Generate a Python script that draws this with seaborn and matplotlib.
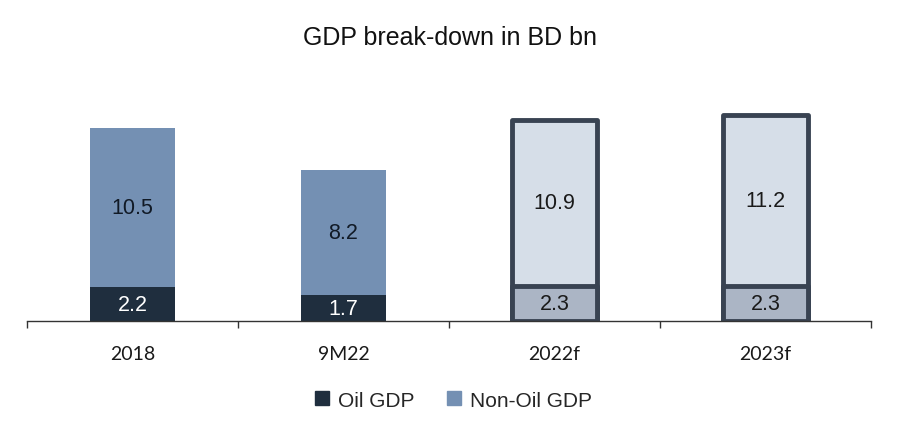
import matplotlib
matplotlib.use("Agg")
import matplotlib.pyplot as plt
from matplotlib.lines import Line2D
import numpy as np
import pandas as pd
import seaborn as sns

categories = ["2018", "9M22", "2022f", "2023f"]
oil_gdp = [2.2, 1.7, 2.3, 2.3]
non_oil_gdp = [10.5, 8.2, 10.9, 11.2]
forecast = [False, False, True, True]

sns.set_style("white")
plt.rcParams['font.family'] = ['Liberation Sans', 'DejaVu Sans']

df = pd.DataFrame({"cat": categories, "oil": oil_gdp, "non_oil": non_oil_gdp})
df["total"] = df["oil"] + df["non_oil"]

oil_col, non_oil_col = "#1f2e3e", "#7490b3"
oil_fc, non_oil_fc = "#abb5c5", "#d6dee8"
edge_col = "#394352"

fig = plt.figure(figsize=(9, 4.35), dpi=100)
ax = fig.add_axes([27 / 900, 0.2598, 844 / 900, 0.49])

tot_pal = {c: (non_oil_fc if f else non_oil_col) for c, f in zip(categories, forecast)}
oil_pal = {c: (oil_fc if f else oil_col) for c, f in zip(categories, forecast)}

# totals first, oil part drawn over the bottom
sns.barplot(data=df, x="cat", y="total", hue="cat", palette=tot_pal, legend=False,
            width=0.4, ax=ax, saturation=1)
n = len(categories)
sns.barplot(data=df, x="cat", y="oil", hue="cat", palette=oil_pal, legend=False,
            width=0.4, ax=ax, saturation=1)

for i, p in enumerate(ax.patches):
    if forecast[i % n]:
        p.set_edgecolor(edge_col)
        p.set_linewidth(3.5)
        p.set_joinstyle("round")
    else:
        p.set_linewidth(0)

for i in range(n):
    txt_oil = "white" if not forecast[i] else "#1a1a1a"
    ax.text(i, oil_gdp[i] / 2, f"{oil_gdp[i]:.1f}", ha="center", va="center",
            fontsize=15.5, color=txt_oil)
    ax.text(i, oil_gdp[i] + non_oil_gdp[i] / 2, f"{non_oil_gdp[i]:.1f}", ha="center",
            va="center", fontsize=15.5, color="#111a26" if not forecast[i] else "#1a1a1a")

ax.set_ylim(0, 14)
ax.set_xlim(-0.5, n - 0.5)
ax.set_xlabel("")
ax.set_ylabel("")
ax.set_yticks([])
for s in ["top", "right", "left"]:
    ax.spines[s].set_visible(False)
ax.spines["bottom"].set_color("#333333")
ax.spines["bottom"].set_linewidth(1)
ax.set_xticks(range(n))
ax.set_xticklabels(categories, fontsize=14, family=["Lato", "DejaVu Sans"], color="#1a1a1a")
ax.set_xticks(np.arange(-0.5, n, 1), minor=True)
ax.tick_params(axis="x", which="major", bottom=False, length=0, pad=17)
ax.tick_params(axis="x", which="minor", bottom=True, length=5, width=1, color="#333333",
               direction="out")

fig.text(0.5, 0.913, "GDP break-down in BD bn", ha="center", va="center", fontsize=18, color="#111111")

handles = [Line2D([], [], marker="s", linestyle="", markersize=10, color=oil_col),
           Line2D([], [], marker="s", linestyle="", markersize=10, color=non_oil_col)]
fig.legend(handles, ["Oil GDP", "Non-Oil GDP"], loc="center", bbox_to_anchor=(0.502, 0.078),
           ncol=2, frameon=False, fontsize=15, handletextpad=0.25, columnspacing=1.4,
           handlelength=1.0)

fig.savefig("out.png", dpi=100)
